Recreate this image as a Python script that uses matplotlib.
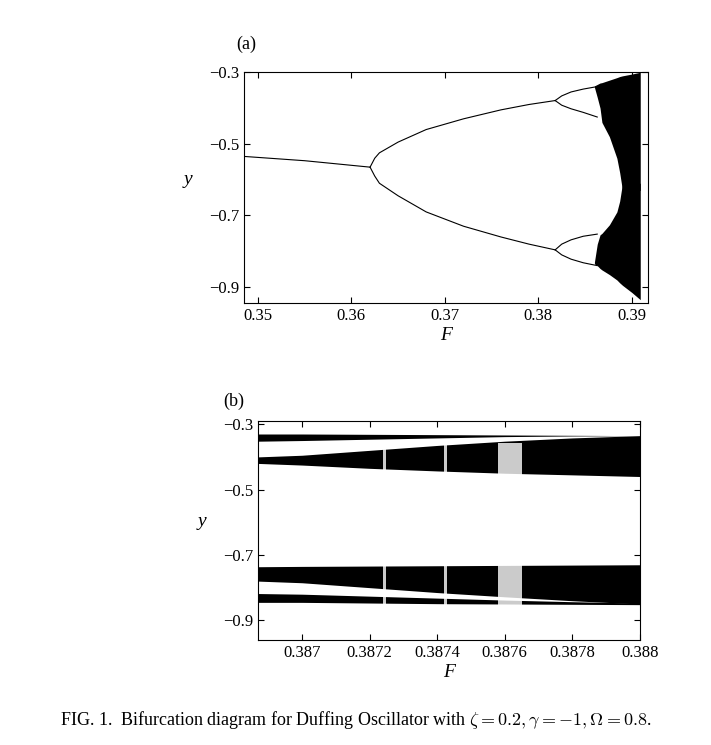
import matplotlib
matplotlib.use("Agg")
import matplotlib.pyplot as plt
import numpy as np

plt.rcParams['font.family'] = ['Liberation Serif', 'DejaVu Serif']
plt.rcParams['mathtext.fontset'] = 'cm'

# ---- panel (a) data ----
p1_F = [0.3485, 0.355, 0.362]
p1_y = [-0.535, -0.547, -0.565]
p2_F = [0.362, 0.3625, 0.363, 0.365, 0.368, 0.372, 0.376, 0.379, 0.3818]
p2_up = [-0.565, -0.54, -0.525, -0.495, -0.46, -0.43, -0.405, -0.39, -0.379]
p2_lo = [-0.565, -0.59, -0.61, -0.645, -0.69, -0.73, -0.76, -0.78, -0.796]
p4_F = [0.3818, 0.3825, 0.3835, 0.3848, 0.3863]
p4_uu = [-0.379, -0.366, -0.355, -0.347, -0.340]
p4_ul = [-0.379, -0.392, -0.402, -0.412, -0.425]
p4_lu = [-0.796, -0.78, -0.768, -0.758, -0.752]
p4_ll = [-0.796, -0.81, -0.822, -0.832, -0.840]
ch_F = [0.3860, 0.3863, 0.3866, 0.3868, 0.3876, 0.3884, 0.3887, 0.3890, 0.3900, 0.3909]
ch_top = [-0.338, -0.334, -0.330, -0.329, -0.322, -0.315, -0.312, -0.310, -0.305, -0.300]
ch_htop = [-0.342, -0.37, -0.40, -0.44, -0.48, -0.54, -0.58, -0.63, -0.63, -0.63]
ch_hbot = [-0.83, -0.78, -0.754, -0.75, -0.726, -0.69, -0.66, -0.61, -0.61, -0.61]
ch_bot = [-0.835, -0.84, -0.848, -0.852, -0.865, -0.88, -0.888, -0.895, -0.915, -0.935]

# ---- panel (b) data ----
b_F = [0.38687, 0.387, 0.3872, 0.3874, 0.3876, 0.3878, 0.388]
bA_top = [-0.330, -0.330, -0.331, -0.332, -0.333, -0.334, -0.335]
bA_bot = [-0.352, -0.350, -0.346, -0.342, -0.338, -0.336, -0.335]
bB_top = [-0.40, -0.395, -0.38, -0.365, -0.352, -0.342, -0.335]
bB_bot = [-0.42, -0.425, -0.435, -0.443, -0.450, -0.455, -0.460]
bC_top = [-0.736, -0.735, -0.734, -0.733, -0.732, -0.731, -0.730]
bC_bot = [-0.78, -0.785, -0.80, -0.815, -0.828, -0.840, -0.850]
bD_top = [-0.818, -0.820, -0.826, -0.832, -0.838, -0.843, -0.847]
bD_bot = [-0.845, -0.845, -0.847, -0.849, -0.850, -0.851, -0.852]
win_lo = [0.38724, 0.38742, 0.38758]
win_hi = [0.38725, 0.38743, 0.38765]

fig = plt.figure(figsize=(7.11, 7.45), dpi=100)

ax = fig.add_axes([0.343, 0.593, 0.568, 0.310])
ax.plot(p1_F, p1_y, color='k', lw=0.8)
ax.plot(p2_F, p2_up, color='k', lw=0.8)
ax.plot(p2_F, p2_lo, color='k', lw=0.8)
for arr in (p4_uu, p4_ul, p4_lu, p4_ll):
    ax.plot(p4_F, arr, color='k', lw=0.8)
ax.fill_between(ch_F, ch_top, ch_htop, color='k', lw=0)
ax.fill_between(ch_F, ch_hbot, ch_bot, color='k', lw=0)
ax.set_xlim(0.3485, 0.3917)
ax.set_ylim(-0.945, -0.3)
ax.set_xticks([0.35, 0.36, 0.37, 0.38, 0.39])
ax.set_xticklabels(['0.35', '0.36', '0.37', '0.38', '0.39'])
ax.set_yticks([-0.3, -0.5, -0.7, -0.9])
ax.set_yticklabels(['−0.3', '−0.5', '−0.7', '−0.9'])
ax.set_xlabel('F', style='italic', fontsize=14, labelpad=2)
ax.set_ylabel('y', style='italic', fontsize=14, rotation=0, labelpad=15)
ax.text(-0.02, 1.1, '(a)', transform=ax.transAxes, fontsize=13)

bx = fig.add_axes([0.363, 0.141, 0.537, 0.294])
bx.fill_between(b_F, bA_top, bA_bot, color='k', lw=0)
bx.fill_between(b_F, bB_top, bB_bot, color='k', lw=0)
bx.fill_between(b_F, bC_top, bC_bot, color='k', lw=0)
bx.fill_between(b_F, bD_top, bD_bot, color='k', lw=0)
for lo, hi in zip(win_lo, win_hi):
    bx.axvspan(lo, hi, ymin=0.05, ymax=0.9, color='white', alpha=0.8, lw=0)
bx.set_xlim(0.38687, 0.388)
bx.set_ylim(-0.96, -0.29)
bx.set_xticks([0.387, 0.3872, 0.3874, 0.3876, 0.3878, 0.388])
bx.set_xticklabels(['0.387', '0.3872', '0.3874', '0.3876', '0.3878', '0.388'])
bx.set_yticks([-0.3, -0.5, -0.7, -0.9])
bx.set_yticklabels(['−0.3', '−0.5', '−0.7', '−0.9'])
bx.set_xlabel('F', style='italic', fontsize=14, labelpad=2)
bx.set_ylabel('y', style='italic', fontsize=14, rotation=0, labelpad=15)
bx.text(-0.09, 1.07, '(b)', transform=bx.transAxes, fontsize=13)

for a in (ax, bx):
    a.tick_params(direction='in', labelsize=12, top=True, right=True, length=4)

fig.text(0.5, 0.027, r'FIG. 1.  Bifurcation diagram for Duffing Oscillator with $\zeta = 0.2, \gamma = -1, \Omega = 0.8$.',
         ha='center', fontsize=13)

fig.savefig('out.png', dpi=100)
